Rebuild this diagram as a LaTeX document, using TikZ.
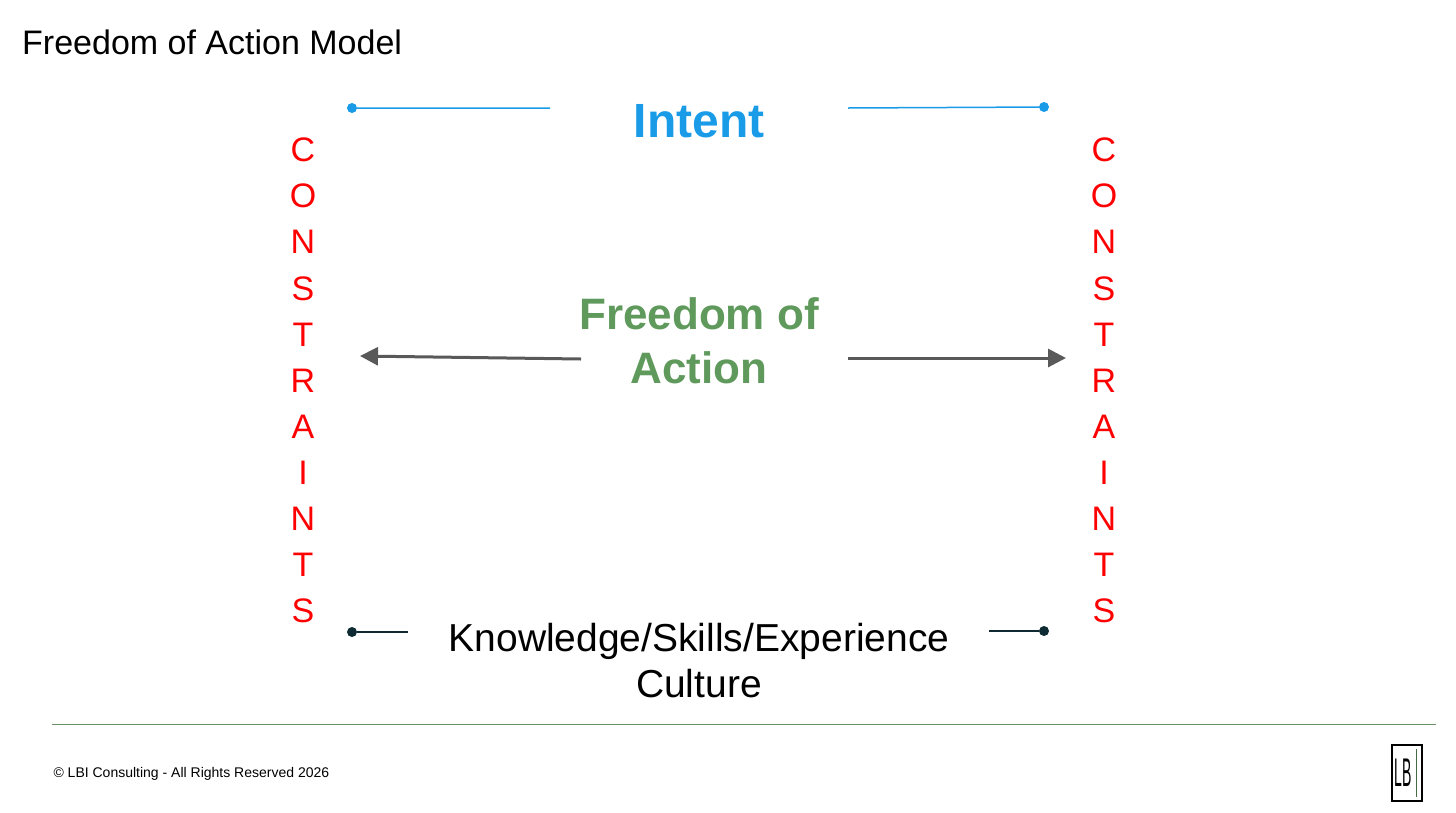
\documentclass[tikz,border=0pt]{standalone}
\usepackage{fontspec}
\setmainfont{Liberation Sans}
\begin{document}
\begin{tikzpicture}[x=1pt,y=-1pt,
  dotb/.style={circle,fill=#1,inner sep=0pt,minimum size=10pt},
  arr/.style={draw=black!65,line width=3pt,-{Triangle[length=18pt,width=18pt]}},
  con/.style={text=red,font=\fontsize{34}{34}\selectfont,align=center,inner sep=0pt}]
\usetikzlibrary{arrows.meta}
\useasboundingbox (0,0) rectangle (1456,812);
\definecolor{ib}{HTML}{1A9BE8}
\definecolor{fg}{HTML}{5F9A5C}
\node[anchor=west,font=\fontsize{34}{34}\selectfont,inner sep=0pt] (title) at (22,42) {Freedom of Action Model};
\node[text=ib,font=\bfseries\fontsize{48}{48}\selectfont] (intent) at (699,121) {Intent};
\node[dotb=ib] (d1) at (352,108) {};
\node[dotb=ib] (d2) at (1044,107) {};
\coordinate (i1) at (550,108);
\coordinate (i2) at (848,108);
\draw[ib,line width=1.5pt] (d1)--(i1) (i2)--(d2);
\node[text=fg,font=\bfseries\fontsize{44}{54}\selectfont,align=center] (foa) at (699,341) {Freedom of\\Action};
\coordinate (a1) at (581,359); \coordinate (a2) at (360,356);
\coordinate (b1) at (848,358); \coordinate (b2) at (1066,358);
\draw[arr] (a1)--(a2); \draw[arr] (b1)--(b2);
\foreach \c [count=\i] in {C,O,N,S,T,R,A,I,N,T,S}{
  \node[con] (l\i) at (303,{150+(\i-1)*46.1}) {\c};
  \node[con] (r\i) at (1104,{150+(\i-1)*46.1}) {\c};
}
\node[font=\fontsize{39}{46}\selectfont,align=center] (kn) at (699,661) {Knowledge/Skills/Experience\\Culture};
\definecolor{dk}{HTML}{0E2A33}
\node[dotb=dk] (k1) at (352,632) {};
\node[dotb=dk] (k2) at (1044,631) {};
\coordinate (k1e) at (408,632); \coordinate (k2e) at (989,631);
\draw[dk,line width=1.5pt] (k1)--(k1e) (k2e)--(k2);
\coordinate (h1) at (52,724); \coordinate (h2) at (1436,724);
\draw[draw=fg!70!gray,line width=1pt] (h1)--(h2);
\node[anchor=west,font=\fontsize{14}{14}\selectfont] (copy) at (50,774) {© LBI Consulting - All Rights Reserved 2026};
\node[draw,line width=1.2pt,minimum width=30pt,minimum height=56pt,inner sep=0pt] (logo) at (1407,773) {};
\node[font=\fontsize{40}{40}\selectfont,inner sep=0pt,xscale=0.35] (lb) at (1403,773) {LB};
\draw[fg!70!black,line width=1.2pt] ([xshift=-6pt,yshift=-5pt]logo.north east)--([xshift=-6pt,yshift=5pt]logo.south east);
\end{tikzpicture}
\end{document}
